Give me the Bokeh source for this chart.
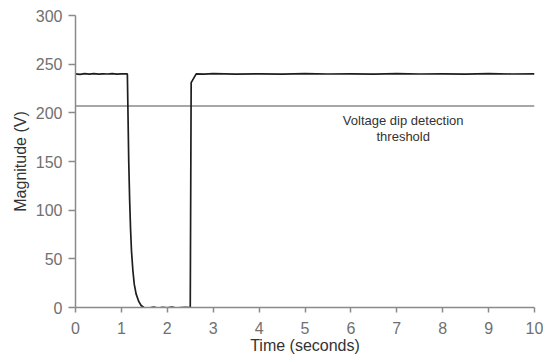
from bokeh.plotting import figure
from bokeh.models import Range1d, FixedTicker, ColumnDataSource
from bokeh.core.properties import value
from bokeh.embed import file_html
from bokeh.resources import INLINE

# Voltage magnitude trace (time in seconds, magnitude in volts)
time_s = [0.0, 0.1, 0.2, 0.3, 0.4, 0.5, 0.6, 0.7, 0.8, 0.9, 1.0, 1.1, 1.13,
          1.14, 1.16, 1.18, 1.20, 1.22, 1.25, 1.28, 1.32, 1.38, 1.43, 1.49,
          1.6, 1.7, 1.8, 1.9, 2.0, 2.1, 2.2, 2.3, 2.4, 2.50,
          2.52, 2.63, 2.8, 3.0, 3.5, 4.0, 4.5, 5.0, 5.5, 6.0, 6.5, 7.0, 7.5,
          8.0, 8.5, 9.0, 9.5, 10.0]
magnitude_v = [240.0, 239.6, 240.3, 239.8, 240.2, 239.7, 240.1, 239.9, 240.3, 239.8, 240.0, 240.1, 240.0,
               210.0, 150.0, 110.0, 80.0, 58.0, 38.0, 24.0, 14.0, 6.0, 2.0, 0.0,
               -0.5, 0.3, -0.6, 0.2, -0.4, 0.3, -0.5, 0.0, 0.2, 0.0,
               231.0, 240.0, 239.8, 240.2, 239.7, 240.1, 239.8, 240.3, 239.9, 240.1, 239.7, 240.2, 239.9,
               240.1, 239.8, 240.2, 239.9, 240.0]

threshold_v = 207.0
threshold_label = "Voltage dip detection\nthreshold"
label_x = [7.14]
label_y = [184.0]

x_ticks = [0, 1, 2, 3, 4, 5, 6, 7, 8, 9, 10]
y_ticks = [0, 50, 100, 150, 200, 250, 300]

p = figure(frame_width=459, frame_height=292, output_backend="svg", toolbar_location=None,
           x_range=Range1d(0, 10), y_range=Range1d(0, 300),
           min_border_left=75, min_border_right=9, min_border_top=15, min_border_bottom=44)
p.outline_line_color = None
p.background_fill_color = "white"
p.border_fill_color = "white"
p.xgrid.visible = False
p.ygrid.visible = False

# threshold line
p.line(x=[x_ticks[0], x_ticks[-1]], y=[threshold_v, threshold_v], line_color="#8a8a8a", line_width=1.5)

# signal
p.line(x=time_s, y=magnitude_v, line_color="#1e1e1e", line_width=1.7)

src = ColumnDataSource(dict(x=label_x, y=label_y, t=[threshold_label]))
p.text(x="x", y="y", text="t", source=src, text_align="center", text_baseline="middle",
       text_font=value("Liberation Sans"), text_font_size="13px", text_color="#333333",
       text_line_height=1.1)

for ax in (p.xaxis[0], p.yaxis[0]):
    ax.axis_line_color = "#8a8a8a"
    ax.axis_line_width = 1.5
    ax.major_tick_line_color = "#8a8a8a"
    ax.major_tick_line_width = 1.5
    ax.minor_tick_line_color = None
    ax.major_tick_in = 0
    ax.major_label_text_font = "Liberation Sans"
    ax.major_label_text_font_size = "16px"
    ax.major_label_text_color = "#707070"
    ax.axis_label_text_font = "Liberation Sans"
    ax.axis_label_text_font_size = "16px"
    ax.axis_label_text_font_style = "normal"
    ax.axis_label_text_color = "#333333"

p.xaxis.ticker = FixedTicker(ticks=x_ticks)
p.yaxis.ticker = FixedTicker(ticks=y_ticks)
p.xaxis.major_tick_out = 5
p.yaxis.major_tick_out = 7
p.xaxis.major_label_standoff = 9
p.yaxis.major_label_standoff = 6
p.xaxis.axis_label = "Time (seconds)"
p.yaxis.axis_label = "Magnitude (V)"
p.xaxis.axis_label_standoff = 0
p.yaxis.axis_label_standoff = 4

open("out.html", "w").write(file_html(p, INLINE))
